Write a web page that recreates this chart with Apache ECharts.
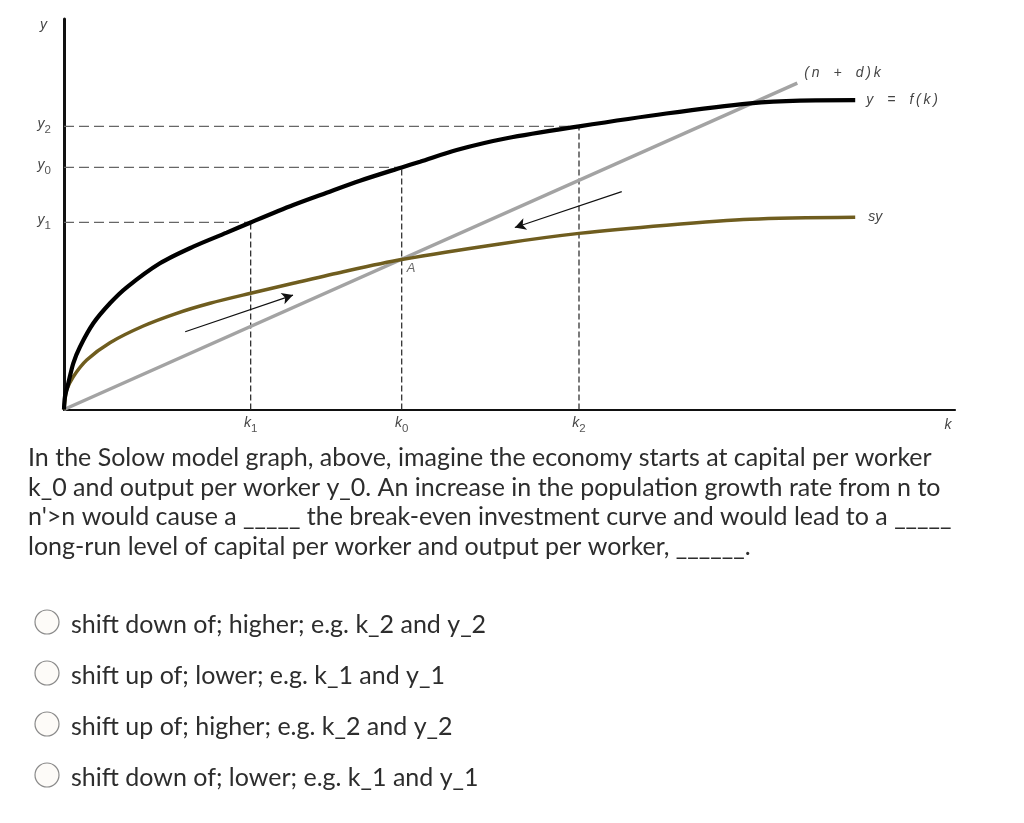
<!DOCTYPE html>
<html>
<head>
<meta charset="utf-8">
<script src="https://cdn.jsdelivr.net/npm/echarts@6/dist/echarts.min.js"></script>
<style>
html,body{margin:0;padding:0;background:#fff;}
#chart{width:1024px;height:823px;}
</style>
</head>
<body>
<div id="chart"></div>
<script>
// ---- Data ----
const kTicks = [20.95, 37.9, 57.8];          // k1, k0, k2
const kTickSubs = ['1', '0', '2'];
const yTicks = [47.9, 62.0, 72.5];           // y1, y0, y2
const yTickSubs = ['1', '0', '2'];

const outputK = [0, 0.11, 0.48, 1.04, 1.80, 3.29, 5.16, 7.04, 10.77, 14.51, 18.26, 20.95, 25.73, 29.48, 33.22, 37.9, 39.96, 44.07, 49.68, 57.8, 67.6, 77.0, 82.6, 88.8];
const outputY = [0, 3.3, 6.71, 11.83, 16.08, 22.07, 27.2, 31.29, 37.44, 41.69, 45.28, 47.9, 52.37, 55.52, 58.59, 62.0, 63.46, 66.45, 69.45, 72.5, 75.8, 78.4, 79.1, 79.2];

const savingK = [0, 0.10, 0.30, 1.04, 2.55, 5.16, 8.90, 12.65, 16.39, 20.95, 25.73, 31.35, 37.9, 48.9, 57.8, 67.6, 77.0, 88.8];
const savingY = [0, 2.2, 4.99, 8.4, 12.68, 17.11, 21.38, 24.63, 27.2, 29.76, 32.32, 35.29, 38.4, 42.4, 45.1, 47.2, 48.7, 49.2];

const breakEvenK = [0, 82.3];
const breakEvenY = [0, 83.6];

const pointA = [37.9, 38.4];
const arrowUp = [[13.6, 19.9], [25.7, 29.3]];
const arrowDown = [[62.6, 55.8], [50.6, 46.6]];

const questionLines = [
  "In the Solow model graph, above, imagine the economy starts at capital per worker",
  "k_0 and output per worker y_0. An increase in the population growth rate from n to",
  "n'>n would cause a _____ the break-even investment curve and would lead to a _____",
  "long-run level of capital per worker and output per worker, ______."
];
const answerChoices = [
  "shift down of; higher; e.g. k_2 and y_2",
  "shift up of; lower; e.g. k_1 and y_1",
  "shift up of; higher; e.g. k_2 and y_2",
  "shift down of; lower; e.g. k_1 and y_1"
];

// ---- Build chart ----
const zip = (a, b) => a.map((v, i) => [v, b[i]]);
const labelFont = '"Liberation Sans", Arial, sans-serif';
const subRich = {
  i: {fontFamily: labelFont, fontStyle: 'italic', fontSize: 14, color: '#444', lineHeight: 18, verticalAlign: 'top'},
  s: {fontFamily: labelFont, fontSize: 11.5, color: '#555', lineHeight: 18, verticalAlign: 'bottom'}
};
function subFormatter(ticks, subs, letter) {
  return function (v) {
    for (let i = 0; i < ticks.length; i++) {
      if (Math.abs(v - ticks[i]) < 0.01) return '{i|' + letter + '}{s|' + subs[i] + '}';
    }
    return '';
  };
}

const guideSeries = [];
for (let i = 0; i < kTicks.length; i++) {
  guideSeries.push({
    type: 'line', data: [[0, yTicks[i]], [kTicks[i], yTicks[i]]], symbol: 'none', silent: true,
    lineStyle: {color: '#666', width: 1.3, type: [10, 5]}, z: 1
  });
  guideSeries.push({
    type: 'line', data: [[kTicks[i], 0], [kTicks[i], yTicks[i]]], symbol: 'none', silent: true,
    lineStyle: {color: '#333', width: 1.3, type: [6, 3]}, z: 1
  });
}

const annFont = {fontFamily: labelFont, fontStyle: 'italic', fontSize: 14, color: '#444'};

const option = {
  animation: false,
  backgroundColor: '#ffffff',
  grid: {left: 64, top: 19, width: 891, height: 390.5, containLabel: false},
  xAxis: {
    type: 'value', min: 0, max: 100,
    axisLine: {lineStyle: {color: '#111', width: 2.2}},
    axisTick: {show: false},
    splitLine: {show: false},
    axisLabel: {customValues: kTicks, formatter: subFormatter(kTicks, kTickSubs, 'k'), margin: 7, rich: subRich},
    name: 'k', nameLocation: 'end', nameGap: -7,
    nameTextStyle: Object.assign({}, annFont, {align: 'center', verticalAlign: 'top', padding: [9, 0, 0, 0]})
  },
  yAxis: {
    type: 'value', min: 0, max: 100,
    axisLine: {lineStyle: {color: '#111', width: 3}},
    axisTick: {show: false},
    splitLine: {show: false},
    axisLabel: {customValues: yTicks, formatter: subFormatter(yTicks, yTickSubs, 'y'), margin: 13, rich: subRich},
    name: 'y', nameLocation: 'end', nameGap: -6,
    nameTextStyle: Object.assign({}, annFont, {align: 'right', verticalAlign: 'middle', padding: [0, 17, 0, 0]})
  },
  series: guideSeries.concat([
    {
      name: 'breakEven', type: 'line', data: zip(breakEvenK, breakEvenY), symbol: 'none', z: 3,
      lineStyle: {color: '#a3a3a3', width: 3.5},
      endLabel: {show: true, formatter: '(\u2009n\u2003+\u2003d\u2009)\u2009k', offset: [0, -10], distance: 7, ...annFont}
    },
    {
      name: 'saving', type: 'line', data: zip(savingK, savingY), symbol: 'none', smooth: 0.3, z: 4,
      lineStyle: {color: '#6f5d1f', width: 3.5},
      endLabel: {show: true, formatter: 'sy', distance: 13, ...annFont}
    },
    {
      name: 'output', type: 'line', data: zip(outputK, outputY), symbol: 'none', smooth: 0.3, z: 5,
      lineStyle: {color: '#000', width: 4.2},
      endLabel: {show: true, formatter: 'y\u2003=\u2003f\u2009(\u2009k\u2009)', distance: 11, ...annFont}
    },
    {
      name: 'A', type: 'scatter', data: [pointA], symbolSize: 0, z: 6,
      label: {show: true, formatter: 'A', position: [5, 2], ...annFont, fontSize: 13}
    },
    {
      name: 'arrows', type: 'line', data: [], z: 6,
      markLine: {
        silent: true, animation: false,
        symbol: ['none', 'arrow'], symbolSize: [9, 11],
        label: {show: false},
        lineStyle: {color: '#111', width: 1.2, type: 'solid'},
        data: [
          [{coord: arrowUp[0]}, {coord: arrowUp[1]}],
          [{coord: arrowDown[0]}, {coord: arrowDown[1]}]
        ]
      }
    }
  ]),
  graphic: []
};

const qFont = {fontFamily: 'Lato', fontSize: 25, fill: '#2d2d2d'};
option.graphic.push({
  type: 'text', x: 28, y: 443,
  style: Object.assign({text: questionLines.join('\n'), lineHeight: 29.7}, qFont)
});
answerChoices.forEach((t, i) => {
  option.graphic.push({
    type: 'circle', shape: {cx: 47, cy: 622 + 51 * i, r: 12},
    style: {fill: '#fdfbf8', stroke: '#8a8a8a', lineWidth: 1.2}
  });
  option.graphic.push({
    type: 'text', x: 71, y: 625 + 51 * i,
    style: Object.assign({text: t, verticalAlign: 'middle'}, qFont)
  });
});

const chart = echarts.init(document.getElementById('chart'), null, {renderer: 'canvas'});
chart.setOption(option);
</script>
</body>
</html>
